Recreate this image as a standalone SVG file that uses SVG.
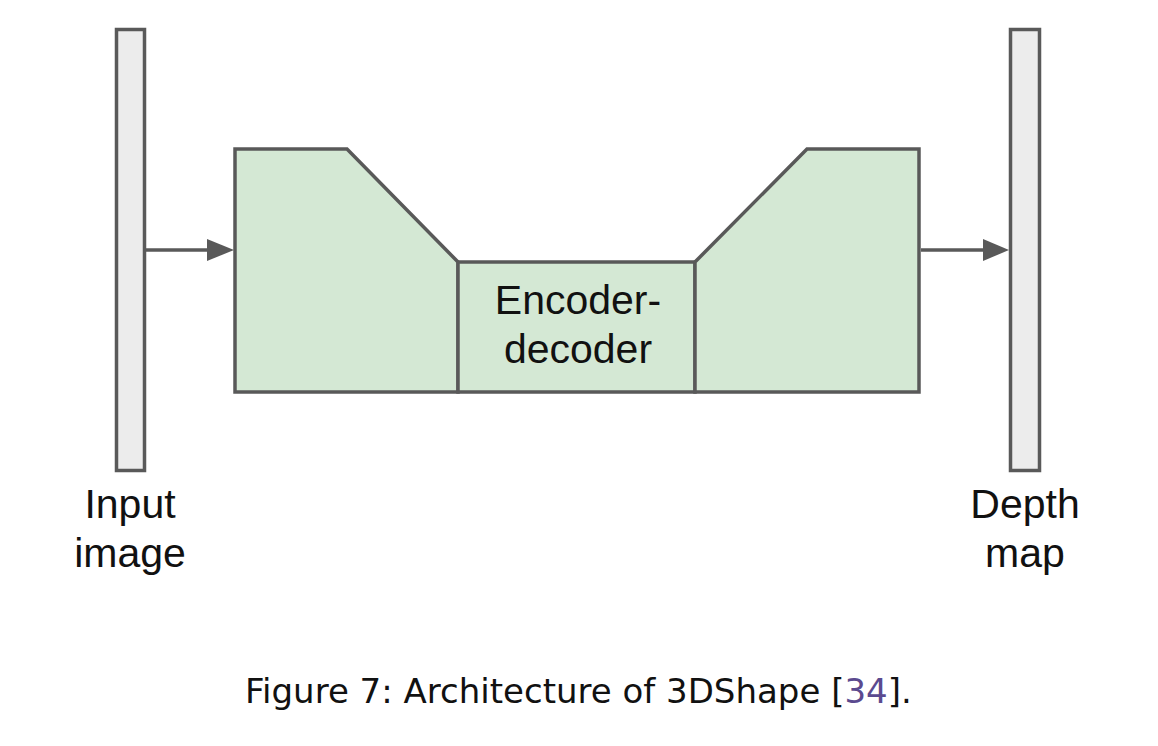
<svg xmlns="http://www.w3.org/2000/svg" width="1158" height="746" viewBox="0 0 1158 746">
<defs>
<style>
.bar{fill:#ececec;stroke:#595959;stroke-width:3.5}
.blk{fill:#d4e8d4;stroke:#595959;stroke-width:3.5;stroke-linejoin:miter}
.lbl{font-family:"Liberation Sans",Arial,sans-serif;font-size:41px;fill:#111;text-anchor:middle}
.cap{font-family:"DejaVu Sans","Open Sans",sans-serif;font-size:34px;fill:#111}
.ln{stroke:#595959;stroke-width:3.5;fill:none}
</style>
</defs>
<rect width="1158" height="746" fill="#fff"/>
<g id="input">
<rect class="bar" x="116.5" y="29.5" width="28" height="441"/>
<text class="lbl" x="130" y="518">Input</text>
<text class="lbl" x="130" y="567">image</text>
</g>
<g id="encoder">
<polygon class="blk" points="235,149 347,149 458,262 458,392 235,392"/>
</g>
<g id="middle">
<rect class="blk" x="458" y="262" width="237" height="130"/>
<text class="lbl" x="578" y="314">Encoder-</text>
<text class="lbl" x="578" y="363">decoder</text>
</g>
<g id="decoder">
<polygon class="blk" points="695,262 807,149 919,149 919,392 695,392"/>
</g>
<g id="output">
<rect class="bar" x="1010.5" y="29.5" width="29" height="441"/>
<text class="lbl" x="1025" y="518">Depth</text>
<text class="lbl" x="1025" y="567">map</text>
</g>
<g id="connectors">
<line class="ln" x1="146" y1="250" x2="208" y2="250"/>
<path d="M207,239 L234,250 L207,261 z" fill="#595959"/>
<line class="ln" x1="921" y1="250" x2="984" y2="250"/>
<path d="M983,239 L1009,250 L983,261 z" fill="#595959"/>
</g>
<text class="cap" x="245" y="703">Figure 7: Architecture of 3DShape [<tspan fill="#5b4a8f">34</tspan>].</text>
</svg>
